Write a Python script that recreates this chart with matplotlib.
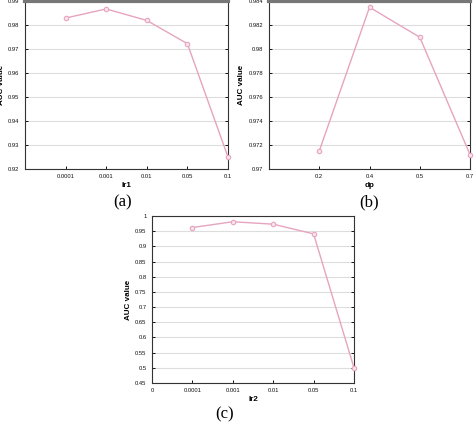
import numpy as np
import matplotlib.pyplot as plt

plt.rcParams['font.family'] = ['Liberation Sans', 'DejaVu Sans']

lr1_labels = ['0.0001', '0.001', '0.01', '0.05', '0.1']
lr1_auc = [0.983, 0.9868, 0.982, 0.9723, 0.925]
lr1_yticks = [0.92, 0.93, 0.94, 0.95, 0.96, 0.97, 0.98, 0.99]
lr1_ylabels = ['0.92', '0.93', '0.94', '0.95', '0.96', '0.97', '0.98', '0.99']

dp_labels = ['0.2', '0.4', '0.5', '0.7']
dp_auc = [0.9715, 0.9835, 0.981, 0.9712]
dp_yticks = [0.97, 0.972, 0.974, 0.976, 0.978, 0.98, 0.982, 0.984]
dp_ylabels = ['0.97', '0.972', '0.974', '0.976', '0.978', '0.98', '0.982', '0.984']

lr2_labels = ['0.0001', '0.001', '0.01', '0.05', '0.1']
lr2_auc = [0.962, 0.981, 0.973, 0.941, 0.5]
lr2_yticks = [0.45, 0.5, 0.55, 0.6, 0.65, 0.7, 0.75, 0.8, 0.85, 0.9, 0.95, 1.0]
lr2_ylabels = ['0.45', '0.5', '0.55', '0.6', '0.65', '0.7', '0.75', '0.8',
               '0.85', '0.9', '0.95', '1']

pink = '#e6a4bf'


def panel(rect, labels, vals, yticks, ylabels, xlabel, show_zero, top_band):
    ax = fig.add_axes(rect)
    x = np.arange(1, len(vals) + 1)
    ax.plot(x, vals, color=pink, linewidth=1.0, marker='o', markersize=3.2,
            markerfacecolor='#f8e4ec', markeredgecolor=pink, markeredgewidth=0.8,
            clip_on=False, zorder=3)
    ax.set_xlim(0, len(vals))
    ax.set_ylim(yticks[0], yticks[-1])
    if show_zero:
        ax.set_xticks(np.arange(0, len(vals) + 1))
        ax.set_xticklabels(['0'] + labels)
    else:
        ax.set_xticks(x)
        ax.set_xticklabels(labels)
    ax.set_yticks(yticks)
    ax.set_yticklabels(ylabels)
    ax.yaxis.grid(True, color='#dddddd', linewidth=0.8)
    ax.set_axisbelow(True)
    ax.tick_params(direction='in', length=2.5, width=0.7, labelsize=4.2,
                   right=True, top=False, colors='#111111')
    ax.tick_params(axis='y', pad=4.0)
    ax.tick_params(axis='x', pad=3.3)
    for s in ['left', 'bottom', 'right']:
        ax.spines[s].set_color('#333333')
        ax.spines[s].set_linewidth(0.8)
    if top_band:
        ax.spines['top'].set_color('#777777')
        ax.spines['top'].set_linewidth(3.0)
    else:
        ax.spines['top'].set_color('#333333')
        ax.spines['top'].set_linewidth(0.8)
    ax.set_xlabel(xlabel, fontsize=5.8, fontweight='bold', labelpad=2.5)
    ax.set_ylabel('AUC value', fontsize=5.8, fontweight='bold', labelpad=2.5)
    return ax


fig = plt.figure(figsize=(4.74, 4.23), dpi=100)

ax_a = panel([0.0527, 0.6005, 0.4283, 0.3965], lr1_labels, lr1_auc,
             lr1_yticks, lr1_ylabels, 'lr1', False, True)
ax_b = panel([0.5675, 0.6005, 0.4241, 0.3965], dp_labels, dp_auc,
             dp_yticks, dp_ylabels, 'dp', False, True)
ax_c = panel([0.3207, 0.0946, 0.4261, 0.3948], lr2_labels, lr2_auc,
             lr2_yticks, lr2_ylabels, 'lr2', True, False)

fig.text(123 / 474, 1 - 202 / 423, '(a)', ha='center', va='center',
         fontsize=12, family='Liberation Serif')
fig.text(369 / 474, 1 - 202 / 423, '(b)', ha='center', va='center',
         fontsize=12, family='Liberation Serif')
fig.text(225 / 474, 1 - 414 / 423, '(c)', ha='center', va='center',
         fontsize=12, family='Liberation Serif')

fig.savefig('out.png', dpi=100)
